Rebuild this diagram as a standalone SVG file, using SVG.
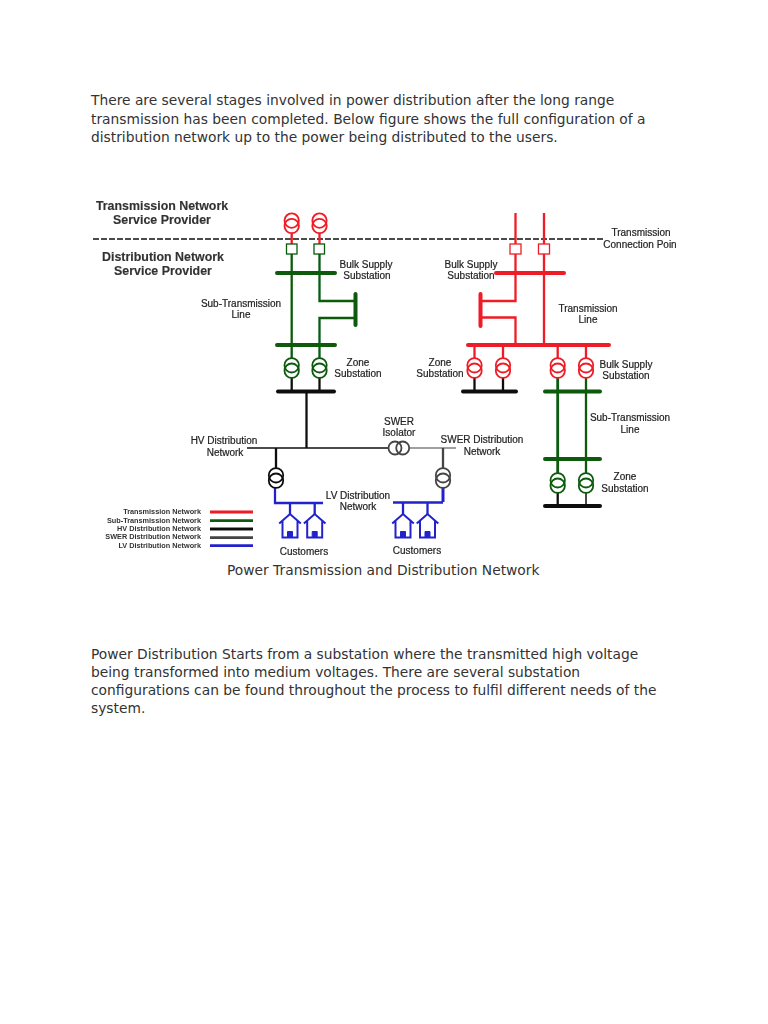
<svg xmlns="http://www.w3.org/2000/svg" width="768" height="1024" viewBox="0 0 768 1024">
<style>
.body{font-family:"DejaVu Sans",sans-serif;font-size:13.8px;fill:#333}
.h{font-family:"Liberation Sans",sans-serif;font-size:12.4px;font-weight:700;fill:#333;text-anchor:middle;stroke:#333;stroke-width:.15}
.l{font-family:"Liberation Sans",sans-serif;font-size:10px;fill:#222;text-anchor:middle;stroke:#222;stroke-width:.2}
.k{font-family:"Liberation Sans",sans-serif;font-size:7.3px;font-weight:700;fill:#333;text-anchor:end}
.r,.g,.b,.u,.s{fill:none}
.r{stroke:#ee1c25}.g{stroke:#0a5a0e}.b{stroke:#111}.u{stroke:#2222cc}.s{stroke:#444}
.t{stroke-width:2.300}.bus{stroke-width:4;stroke-linecap:round}.c{stroke-width:1.800}
</style>
<defs>
<filter id="soft" x="0" y="0" width="100%" height="100%"><feGaussianBlur stdDeviation="0.35"/></filter>
<g id="xf"><circle cy="-2.700" r="7.200"/><circle cy="2.700" r="7.200"/></g>
<g id="house"><path d="M-10.800 9.500 0 0 10.800 9.500M-7.500 7V23.500H7.500V7" stroke-width="2"/><path d="M-2.500 23.500V17.500H2.500V23.500Z" fill="#2222cc" stroke-width="1"/></g>
</defs>
<rect width="768" height="1024" fill="#fff"/>
<g id="intro">
<text class="body" x="91" y="105">There are several stages involved in power distribution after the long range</text>
<text class="body" x="91" y="124">transmission has been completed. Below figure shows the full configuration of a</text>
<text class="body" x="91" y="142">distribution network up to the power being distributed to the users.</text>
</g>
<g id="diagram" filter="url(#soft)">
<g id="connectors">
<path d="M93 239H605" stroke="#111" stroke-width="1.300" stroke-dasharray="6 2" fill="none"/>
<path class="r t" d="M291.700 233V244M319.500 233V244M515.500 213V244M544 213V244"/>
<path class="g t" d="M291.700 254V358M319.500 254V301H355M355 318H319.500V358"/>
<path class="r t" d="M515.500 254V301H481M481 317.500H515.500V345M544 254V345M474.500 345V358M503 345V358M557.700 345V358M586 345V358"/>
<path class="b t" d="M291.700 378V391M319.500 378V391M474.500 378V391M503 378V391M306.500 391V448M557.700 493V506"/>
<path class="b" stroke-width="1.500" d="M247 448H388M586 493V506"/>
<path class="b t" d="M276 448V468"/>
<path class="g" stroke-width="2.800" d="M557.700 378V473"/>
<path class="g t" d="M586 378V473"/>
<path class="s" stroke-width="1.200" d="M410 448H456"/>
<path class="s t" d="M443 448V468"/>
<path class="u t" d="M275 488V503H323M290 503V514M314.700 503V514M393 502.500H443M403 502.500V514M427.500 502.500V514"/>
<path class="u" stroke-width="3" d="M443 488V502"/>
</g>
<g id="buses">
<path class="g bus" d="M277 273H335M277 345H335"/>
<path class="g bus" d="M355.500 294V325"/>
<path class="b bus" d="M278 391.500H334"/>
<path class="r bus" d="M496 273H564M468 345H609"/>
<path class="r bus" d="M480.500 294V326"/>
<path class="b bus" d="M463 391.500H516M545 506H600"/>
<path class="g bus" d="M545 391.500H600M545 459H600"/>
</g>
<g id="breakers" stroke-width="1.300">
<rect class="g" x="286.500" y="244" width="10.500" height="10" style="fill:#fff"/>
<rect class="g" x="314" y="244" width="10.500" height="10" style="fill:#fff"/>
<rect class="r" x="510" y="244" width="11" height="10" style="fill:#fff"/>
<rect class="r" x="538.500" y="244" width="11" height="10" style="fill:#fff"/>
</g>
<g id="tx-red-1" class="r c"><use href="#xf" x="291.700" y="223.300"/></g>
<g id="tx-red-2" class="r c"><use href="#xf" x="319.500" y="223.300"/></g>
<g id="tx-green-1" class="g c"><use href="#xf" x="291.700" y="368"/></g>
<g id="tx-green-2" class="g c"><use href="#xf" x="319.500" y="368"/></g>
<g id="tx-red-3" class="r c"><use href="#xf" x="474.500" y="368"/></g>
<g id="tx-red-4" class="r c"><use href="#xf" x="503" y="368"/></g>
<g id="tx-red-5" class="r c"><use href="#xf" x="557.700" y="368"/></g>
<g id="tx-red-6" class="r c"><use href="#xf" x="586" y="368"/></g>
<g id="tx-green-3" class="g c"><use href="#xf" x="557.700" y="483"/></g>
<g id="tx-green-4" class="g c"><use href="#xf" x="586" y="483"/></g>
<g id="tx-hv" class="b c"><use href="#xf" x="276" y="478"/></g>
<g id="tx-swer" class="s c"><use href="#xf" x="443" y="478"/></g>
<g id="isolator" class="s c"><circle cx="395" cy="448" r="6.500"/><circle cx="402.700" cy="448" r="6.500"/></g>
<g id="house-1" class="u"><use href="#house" x="290" y="514"/></g>
<g id="house-2" class="u"><use href="#house" x="314.700" y="514"/></g>
<g id="house-3" class="u"><use href="#house" x="403" y="514"/></g>
<g id="house-4" class="u"><use href="#house" x="427.500" y="514"/></g>
<g id="labels">
<text class="h" x="162" y="210">Transmission Network</text>
<text class="h" x="162" y="224">Service Provider</text>
<text class="h" x="163" y="261">Distribution Network</text>
<text class="h" x="163" y="275">Service Provider</text>
<text class="l" x="366" y="268">Bulk Supply</text><text class="l" x="367" y="279">Substation</text>
<text class="l" x="241" y="307">Sub-Transmission</text><text class="l" x="241" y="318">Line</text>
<text class="l" x="358" y="366">Zone</text><text class="l" x="358" y="377">Substation</text>
<text class="l" x="471" y="268">Bulk Supply</text><text class="l" x="471" y="279">Substation</text>
<text class="l" x="641" y="236">Transmission</text><text class="l" x="640" y="248">Connection Poin</text>
<text class="l" x="588" y="312">Transmission</text><text class="l" x="588" y="323">Line</text>
<text class="l" x="440" y="366">Zone</text><text class="l" x="440" y="377">Substation</text>
<text class="l" x="626" y="368">Bulk Supply</text><text class="l" x="626" y="379">Substation</text>
<text class="l" x="630" y="421">Sub-Transmission</text><text class="l" x="630" y="433">Line</text>
<text class="l" x="625" y="480">Zone</text><text class="l" x="625" y="492">Substation</text>
<text class="l" x="224" y="444">HV Distribution</text><text class="l" x="225" y="456">Network</text>
<text class="l" x="399" y="425">SWER</text><text class="l" x="399" y="436">Isolator</text>
<text class="l" x="482" y="443">SWER Distribution</text><text class="l" x="482" y="455">Network</text>
<text class="l" x="358" y="499">LV Distribution</text><text class="l" x="358" y="510">Network</text>
<text class="l" x="304" y="555">Customers</text><text class="l" x="417" y="554">Customers</text>
</g>
<g id="legend">
<text class="k" x="201" y="514">Transmission Network</text>
<text class="k" x="201" y="522.500">Sub-Transmission Network</text>
<text class="k" x="201" y="531">HV Distribution Network</text>
<text class="k" x="201" y="539.300">SWER Distribution Network</text>
<text class="k" x="201" y="548">LV Distribution Network</text>
<path class="r" stroke-width="2.800" d="M210 512H253"/>
<path class="g" stroke-width="2.800" d="M210 520.700H253"/>
<path class="b" stroke-width="2.800" d="M210 529H253"/>
<path class="s" stroke-width="2.800" d="M210 537.700H253"/>
<path class="u" stroke-width="2.800" d="M210 545.700H253"/>
</g>
</g>
<text id="caption" class="body" x="227" y="575">Power Transmission and Distribution Network</text>
<g id="outro">
<text class="body" x="91" y="659">Power Distribution Starts from a substation where the transmitted high voltage</text>
<text class="body" x="91" y="677">being transformed into medium voltages. There are several substation</text>
<text class="body" x="91" y="695">configurations can be found throughout the process to fulfil different needs of the</text>
<text class="body" x="91" y="713">system.</text>
</g>
</svg>
